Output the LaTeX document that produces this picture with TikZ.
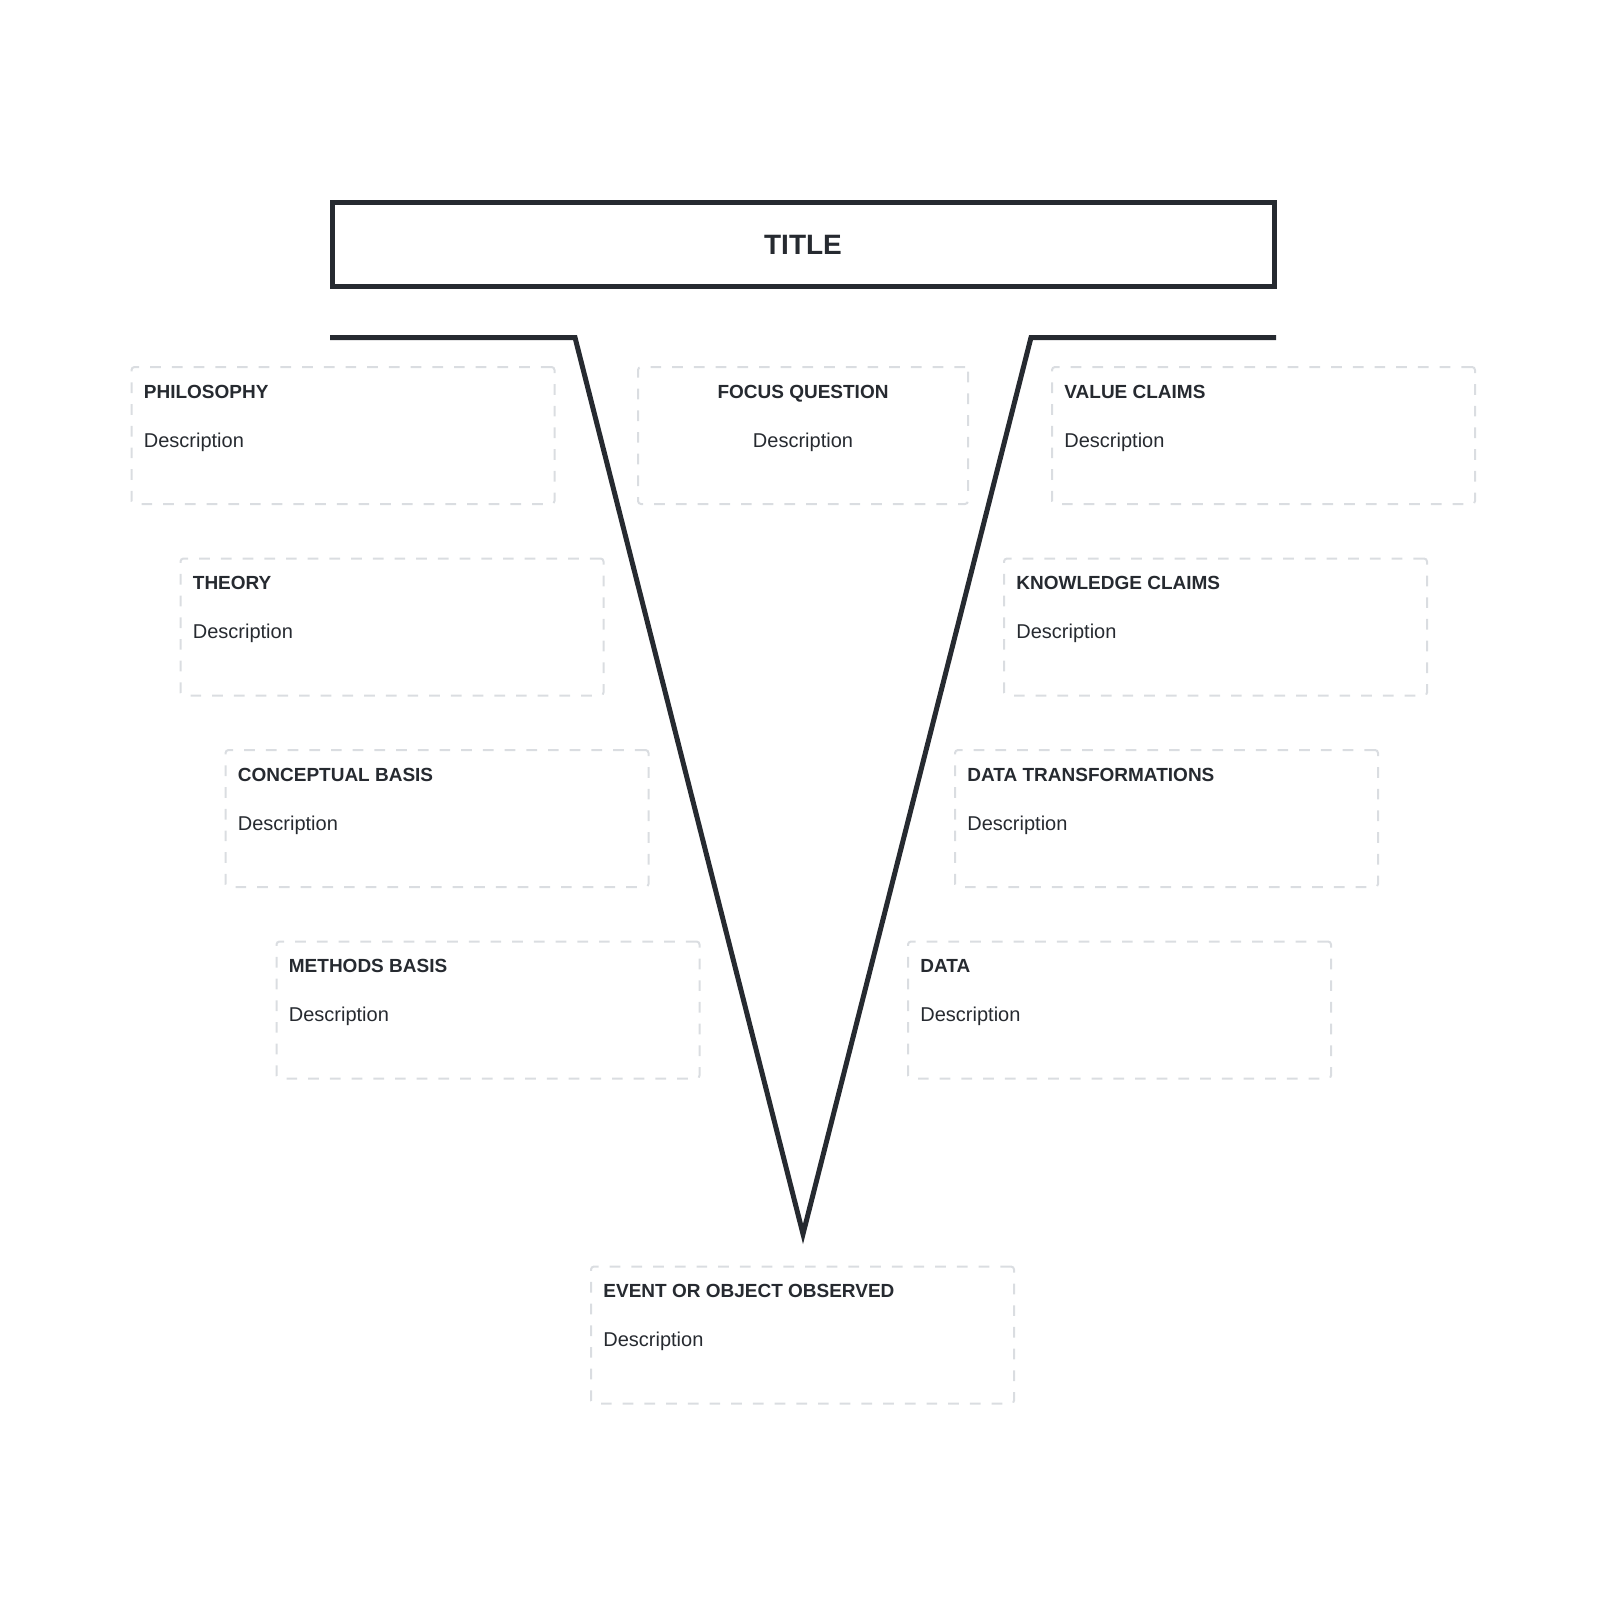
\documentclass[tikz,border=0pt]{standalone}
\usepackage{fontspec}
\setmainfont{Liberation Sans}
\definecolor{ink}{HTML}{262A30}
\definecolor{dashgray}{HTML}{DADDE1}
\begin{document}
\begin{tikzpicture}[x=0.5pt,y=-0.5pt,
  card/.style={draw=dashgray,line width=1pt,dash pattern=on 5.35pt off 5.5pt,
    rounded corners=1.5pt,rectangle,inner sep=0pt,anchor=north west,
    minimum width=211.5pt,minimum height=68.5pt},
  focuscard/.style={card,minimum width=165pt},
  head/.style={anchor=base west,inner sep=0pt,text=ink,font=\fontsize{9.5pt}{11pt}\selectfont\bfseries},
  desc/.style={anchor=base west,inner sep=0pt,text=ink,font=\fontsize{10pt}{12pt}\selectfont},
  titlebox/.style={draw=ink,line width=2.5pt,rectangle,inner sep=0pt,
    minimum width=471pt,minimum height=42pt,text=ink,font=\fontsize{14pt}{16pt}\selectfont\bfseries},
  vline/.style={draw=ink,line width=2.5pt,miter limit=10}]
\useasboundingbox (0,0) rectangle (1600,1600);

% title
\node[titlebox] (title) at (803,244.5) {TITLE};

% V shape
\coordinate (vl0) at (330,337.5);
\coordinate (vl1) at (575,337.5);
\coordinate (vtip) at (803,1234);
\coordinate (vr1) at (1031,337.5);
\coordinate (vr0) at (1276,337.5);
\draw[vline] (vl0) -- (vl1) -- (vtip) -- (vr1) -- (vr0);

% left column
\node[card] (phil) at (130.5,366) {};
\node[head] (philh) at ([shift={(13,32)}]phil.north west) {PHILOSOPHY};
\node[desc] (phild) at ([shift={(13,81)}]phil.north west) {Description};

\node[card] (theo) at (179.5,557.5) {};
\node[head] (theoh) at ([shift={(13,32)}]theo.north west) {THEORY};
\node[desc] (theod) at ([shift={(13,81)}]theo.north west) {Description};

\node[card] (conc) at (224.5,749) {};
\node[head] (conch) at ([shift={(13,32)}]conc.north west) {CONCEPTUAL BASIS};
\node[desc] (concd) at ([shift={(13,81)}]conc.north west) {Description};

\node[card] (meth) at (275.5,940.5) {};
\node[head] (methh) at ([shift={(13,32)}]meth.north west) {METHODS BASIS};
\node[desc] (methd) at ([shift={(13,81)}]meth.north west) {Description};

% focus question
\node[focuscard] (focus) at (637,366) {};
\node[head,anchor=base] (focush) at ([shift={(0,32)}]focus.north) {FOCUS QUESTION};
\node[desc,anchor=base] (focusd) at ([shift={(0,81)}]focus.north) {Description};

% right column
\node[card] (valu) at (1051,366) {};
\node[head] (valuh) at ([shift={(13,32)}]valu.north west) {VALUE CLAIMS};
\node[desc] (valud) at ([shift={(13,81)}]valu.north west) {Description};

\node[card] (know) at (1003,557.5) {};
\node[head] (knowh) at ([shift={(13,32)}]know.north west) {KNOWLEDGE CLAIMS};
\node[desc] (knowd) at ([shift={(13,81)}]know.north west) {Description};

\node[card] (trans) at (954,749) {};
\node[head] (transh) at ([shift={(13,32)}]trans.north west) {DATA TRANSFORMATIONS};
\node[desc] (transd) at ([shift={(13,81)}]trans.north west) {Description};

\node[card] (data) at (907,940.5) {};
\node[head] (datah) at ([shift={(13,32)}]data.north west) {DATA};
\node[desc] (datad) at ([shift={(13,81)}]data.north west) {Description};

% event
\node[card] (event) at (590,1265.5) {};
\node[head] (eventh) at ([shift={(13,32)}]event.north west) {EVENT OR OBJECT OBSERVED};
\node[desc] (eventd) at ([shift={(13,81)}]event.north west) {Description};
\end{tikzpicture}
\end{document}
